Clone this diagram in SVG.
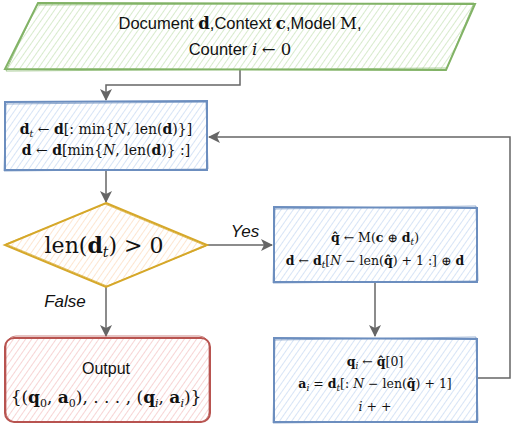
<svg xmlns="http://www.w3.org/2000/svg" width="512" height="430" viewBox="0 0 512 430">
<defs>
<pattern id="hg" patternUnits="userSpaceOnUse" width="5" height="5" patternTransform="rotate(35)">
<rect width="5" height="5" fill="#ffffff"/><line x1="0" y1="0" x2="0" y2="5" stroke="#a8d490" stroke-width="0.9"/>
</pattern>
<pattern id="hb" patternUnits="userSpaceOnUse" width="5" height="5" patternTransform="rotate(35)">
<rect width="5" height="5" fill="#ffffff"/><line x1="0" y1="0" x2="0" y2="5" stroke="#a6c4ec" stroke-width="0.9"/>
</pattern>
<pattern id="ho" patternUnits="userSpaceOnUse" width="5" height="5" patternTransform="rotate(35)">
<rect width="5" height="5" fill="#ffffff"/><line x1="0" y1="0" x2="0" y2="5" stroke="#fac898" stroke-width="0.9"/>
</pattern>
<pattern id="hr" patternUnits="userSpaceOnUse" width="5" height="5" patternTransform="rotate(35)">
<rect width="5" height="5" fill="#ffffff"/><line x1="0" y1="0" x2="0" y2="5" stroke="#eea3a1" stroke-width="0.9"/>
</pattern>
<marker id="arrow" viewBox="0 0 12 12" refX="11" refY="6" markerWidth="12" markerHeight="12" orient="auto" markerUnits="userSpaceOnUse">
<path d="M0,0 L12,6 L0,12 L3,6 Z" fill="#666666"/>
</marker>
</defs>
<style>
.sans{font-family:"Liberation Sans",Arial,sans-serif;fill:#111}
.math{font-family:"DejaVu Serif","Liberation Serif",serif;fill:#111}
.b{font-weight:bold}
.it{font-style:italic}
.conn{fill:none;stroke:#666666;stroke-width:1.5}
.green{stroke:#82b366;stroke-width:2;fill:url(#hg)}
.blue{stroke:#6c8ebf;stroke-width:2;fill:url(#hb)}
.orange{stroke:#d6a82a;stroke-width:2;fill:url(#ho)}
.red{stroke:#b85450;stroke-width:2;fill:url(#hr)}
.sk{fill:none;stroke-width:1;opacity:0.7}
</style>

<g id="connectors">
<path class="conn" d="M240,70 V85 H106 V100" marker-end="url(#arrow)"/>
<path class="conn" d="M106,170 V202" marker-end="url(#arrow)"/>
<path class="conn" d="M207,245 H272" marker-end="url(#arrow)"/>
<path class="conn" d="M375,282 V336" marker-end="url(#arrow)"/>
<path class="conn" d="M477,378 H510 V137 H209" marker-end="url(#arrow)"/>
<path class="conn" d="M106,287 V336" marker-end="url(#arrow)"/>
<text class="sans it" x="245" y="237" font-size="17" text-anchor="middle">Yes</text>
<text class="sans it" x="65" y="307" font-size="17" text-anchor="middle">False</text>
</g>

<g id="input">
<path class="green" d="M38,3 L475,4 L446,70 L5,69 Z"/>
<path class="sk" stroke="#82b366" d="M37,5 L474,3 L447,68 L6,71 Z"/>
<text class="sans" x="240" y="29" font-size="16.5" text-anchor="middle">Document <tspan class="math b">d</tspan>,Context <tspan class="math b">c</tspan>,Model <tspan class="math">M</tspan>,</text>
<text class="sans" x="240" y="55" font-size="16.5" text-anchor="middle">Counter <tspan class="math it">i</tspan> <tspan class="math">← 0</tspan></text>
</g>

<g id="split">
<path class="blue" d="M5,102 L207,101 L207,170 L5,170 Z"/>
<path class="sk" stroke="#6c8ebf" d="M6,104 L206,102 L208,169 L4,171 Z"/>
<text class="math" x="106" y="134" font-size="14" text-anchor="middle"><tspan class="b">d</tspan><tspan class="it" font-size="9.5" dy="3">t</tspan><tspan dy="-3"> ← </tspan><tspan class="b">d</tspan>[: min{<tspan class="it">N</tspan>, len(<tspan class="b">d</tspan>)}]</text>
<text class="math" x="106" y="155" font-size="14" text-anchor="middle"><tspan class="b">d</tspan> ← <tspan class="b">d</tspan>[min{<tspan class="it">N</tspan>, len(<tspan class="b">d</tspan>)} :]</text>
</g>

<g id="decision">
<path class="orange" d="M106,203 L207,245 L106,287 L5,245 Z"/>
<path class="sk" stroke="#d6a82a" d="M105,204 L206,246 L107,286 L6,244 Z"/>
<text class="math" x="104" y="253" font-size="22" text-anchor="middle">len(<tspan class="b">d</tspan><tspan class="it" font-size="14" dy="4">t</tspan><tspan dy="-4">) &gt; 0</tspan></text>
</g>

<g id="generate">
<path class="blue" d="M274,207 L477,208 L477,282 L274,282 Z"/>
<path class="sk" stroke="#6c8ebf" d="M275,209 L476,206 L478,281 L273,283 Z"/>
<text class="math" x="375" y="242" font-size="12.5" text-anchor="middle"><tspan class="b">q̂</tspan> ← M(<tspan class="b">c</tspan> ⊕ <tspan class="b">d</tspan><tspan class="it" font-size="9" dy="3">t</tspan><tspan dy="-3">)</tspan></text>
<text class="math" x="375" y="265" font-size="12.5" text-anchor="middle"><tspan class="b">d</tspan> ← <tspan class="b">d</tspan><tspan class="it" font-size="9" dy="3">t</tspan><tspan dy="-3">[</tspan><tspan class="it">N</tspan> − len(<tspan class="b">q̂</tspan>) + 1 :] ⊕ <tspan class="b">d</tspan></text>
</g>

<g id="record">
<path class="blue" d="M274,338 L477,339 L477,422 L274,422 Z"/>
<path class="sk" stroke="#6c8ebf" d="M275,340 L476,337 L478,421 L273,423 Z"/>
<text class="math" x="375" y="366" font-size="12.5" text-anchor="middle"><tspan class="b">q</tspan><tspan class="it" font-size="9" dy="3">i</tspan><tspan dy="-3"> ← </tspan><tspan class="b">q̂</tspan>[0]</text>
<text class="math" x="375" y="388" font-size="12.5" text-anchor="middle"><tspan class="b">a</tspan><tspan class="it" font-size="9" dy="3">i</tspan><tspan dy="-3"> = </tspan><tspan class="b">d</tspan><tspan class="it" font-size="9" dy="3">t</tspan><tspan dy="-3">[: </tspan><tspan class="it">N</tspan> − len(<tspan class="b">q̂</tspan>) + 1]</text>
<text class="math" x="375" y="411" font-size="12.5" text-anchor="middle"><tspan class="it">i</tspan> + +</text>
</g>

<g id="output">
<rect class="red" x="5" y="338" width="205" height="84" rx="9" ry="9"/>
<rect class="sk" stroke="#b85450" x="6" y="336" width="203" height="86" rx="10" ry="10"/>
<text class="sans" x="106" y="374" font-size="16" text-anchor="middle">Output</text>
<text class="math" x="106" y="403" font-size="17" text-anchor="middle">{(<tspan class="b">q</tspan><tspan font-size="11" dy="4">0</tspan><tspan dy="-4">, </tspan><tspan class="b">a</tspan><tspan font-size="11" dy="4">0</tspan><tspan dy="-4">), . . . , (</tspan><tspan class="b">q</tspan><tspan class="it" font-size="11" dy="4">i</tspan><tspan dy="-4">, </tspan><tspan class="b">a</tspan><tspan class="it" font-size="11" dy="4">i</tspan><tspan dy="-4">)}</tspan></text>
</g>
</svg>
